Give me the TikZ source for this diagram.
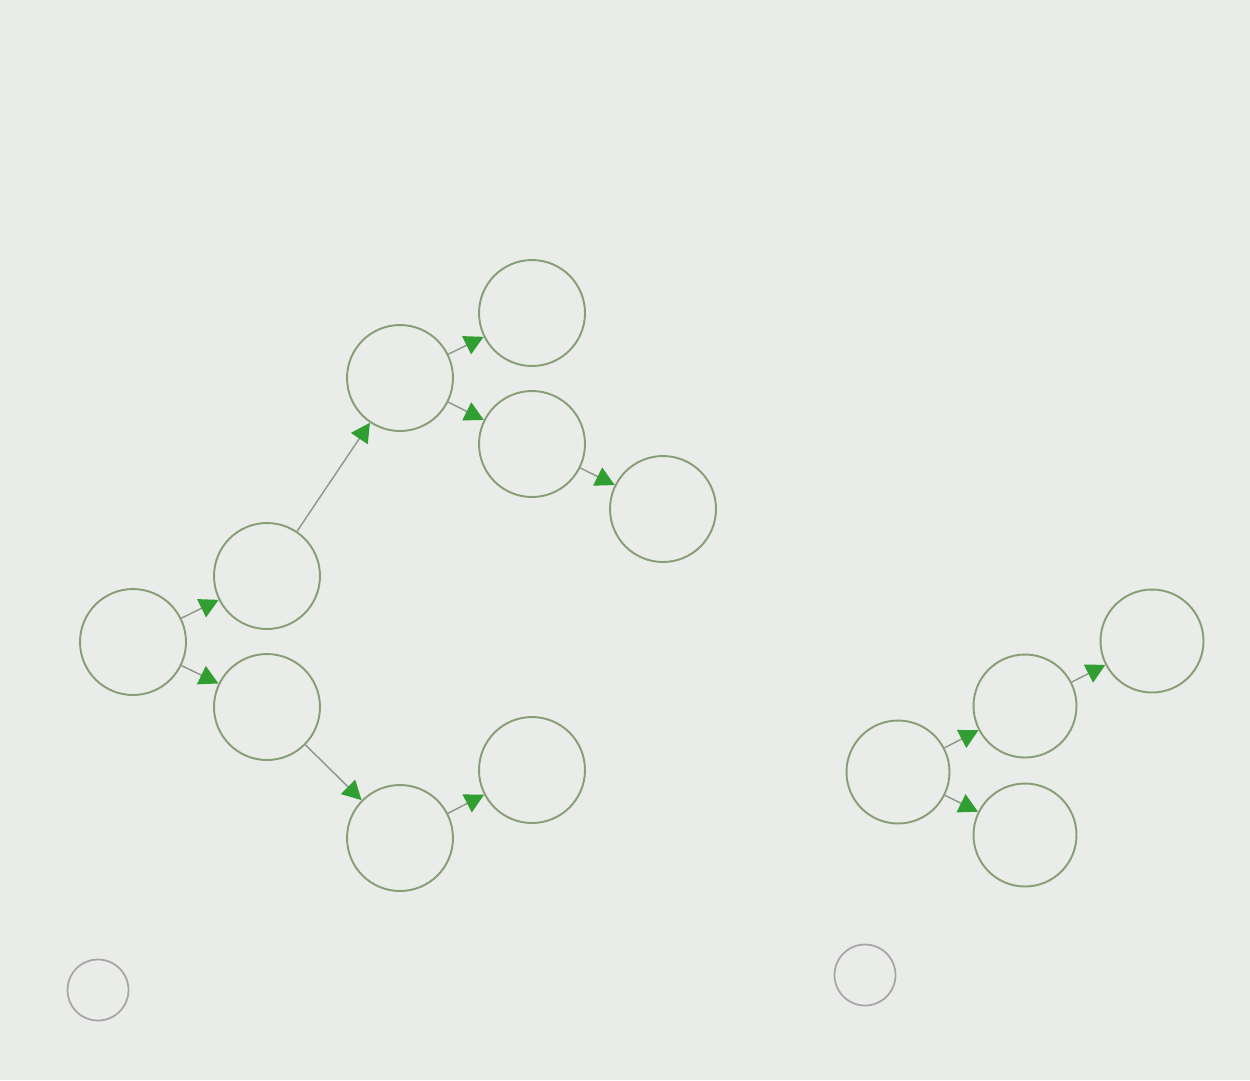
\documentclass[tikz,border=0pt]{standalone}
\usetikzlibrary{arrows.meta}
\definecolor{paper}{RGB}{234,236,233}
\definecolor{ring}{RGB}{135,158,118}
\definecolor{tipgreen}{RGB}{48,158,48}
\definecolor{wire}{RGB}{140,150,138}
\begin{document}
\begin{tikzpicture}[x=0.02cm,y=-0.02cm,
  vertex/.style={circle,draw=ring,line width=1.1pt,minimum size=2.12cm,inner sep=0pt},
  leaf/.style={circle,draw=gray!70,line width=1pt,minimum size=1.22cm,inner sep=0pt},
  link/.style={draw=wire,line width=0.8pt,
    -{Triangle[length=0.38cm,width=0.4cm,fill=tipgreen,color=tipgreen]}}]
  \fill[paper] (0,0) rectangle (1250,1080);
  \useasboundingbox (0,0) rectangle (1250,1080);
  % left tree
  \node[vertex] (a) at (133,642) {};
  \node[vertex] (b) at (267,576) {};
  \node[vertex] (c) at (267,707) {};
  \node[vertex] (d) at (400,378) {};
  \node[vertex] (e) at (532,313) {};
  \node[vertex] (f) at (532,444) {};
  \node[vertex] (g) at (663,509) {};
  \node[vertex] (h) at (400,838) {};
  \node[vertex] (i) at (532,770) {};
  % right tree
  \node[vertex,minimum size=2.06cm] (j) at (898,772) {};
  \node[vertex,minimum size=2.06cm] (k) at (1025,706) {};
  \node[vertex,minimum size=2.06cm] (l) at (1152,641) {};
  \node[vertex,minimum size=2.06cm] (m) at (1025,835) {};
  % small ones
  \node[leaf] (s1) at (98,990) {};
  \node[leaf] (s2) at (865,975) {};
  \draw[link] (a) -- (b);
  \draw[link] (a) -- (c);
  \draw[link] (b) -- (d);
  \draw[link] (d) -- (e);
  \draw[link] (d) -- (f);
  \draw[link] (f) -- (g);
  \draw[link] (c) -- (h);
  \draw[link] (h) -- (i);
  \draw[link] (j) -- (k);
  \draw[link] (j) -- (m);
  \draw[link] (k) -- (l);
\end{tikzpicture}
\end{document}
